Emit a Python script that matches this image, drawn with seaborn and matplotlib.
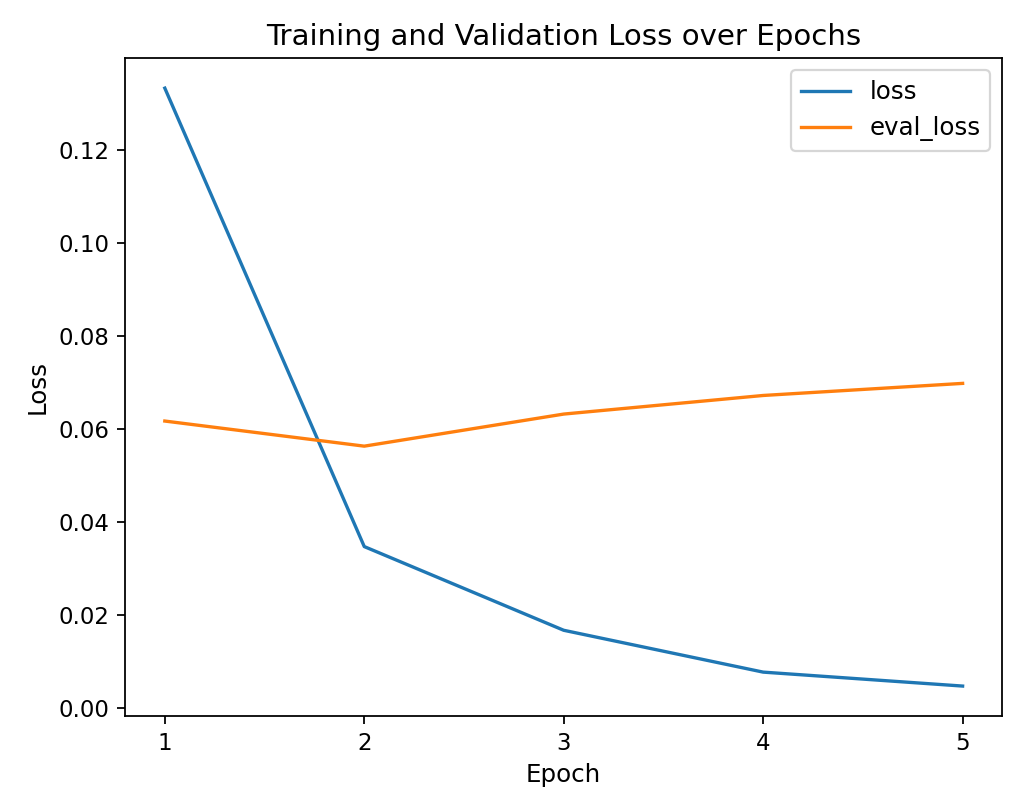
import pandas as pd
import matplotlib
matplotlib.use("Agg")
import matplotlib.pyplot as plt
import seaborn as sns

# values
epochs = [1, 2, 3, 4, 5]
loss = [0.1333, 0.0347, 0.0167, 0.0077, 0.0047]
eval_loss = [0.0617, 0.0563, 0.0632, 0.0672, 0.0698]

df = pd.DataFrame({"epoch": epochs, "loss": loss, "eval_loss": eval_loss})
df_long = df.melt(id_vars="epoch", var_name="metric", value_name="value")

plt.rcParams["font.family"] = ["DejaVu Sans"]

fig, ax = plt.subplots(figsize=(6.4, 5.05625), dpi=160)
fig.subplots_adjust(left=0.122, right=0.979, top=0.928, bottom=0.115)

sns.lineplot(data=df_long, x="epoch", y="value", hue="metric",
             palette=["#1f77b4", "#ff7f0e"], ax=ax)

ax.set_xticks(epochs)
ax.tick_params(labelsize=10.3)
ax.set_title("Training and Validation Loss over Epochs", fontsize=13.2)
ax.set_xlabel("Epoch", fontsize=11)
ax.set_ylabel("Loss", fontsize=11)
ax.legend(title=None, loc="upper right", fontsize=11)

fig.savefig("out.png", dpi=160)
